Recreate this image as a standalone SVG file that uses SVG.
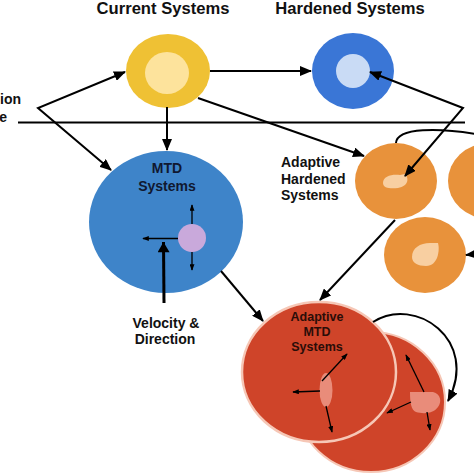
<svg xmlns="http://www.w3.org/2000/svg" width="474" height="474" viewBox="0 0 474 474">
<style>
text{font-family:"Liberation Sans",Arial,sans-serif;font-weight:bold;fill:#111}
.title{font-size:16.6px}
.lbl{font-size:14px}
.lbl2{font-size:12.5px;fill:#2a0d08}
.mtd{font-size:14px;fill:#101830}
.c{stroke:#000;stroke-width:2;fill:none}
.s{stroke:#000;stroke-width:1.3;fill:none}
</style>
<defs>
<marker id="ah" viewBox="0 0 12 10" refX="11" refY="5" markerWidth="12" markerHeight="10" markerUnits="userSpaceOnUse" orient="auto-start-reverse"><path d="M0,0 L12,5 L0,10 Z" fill="#000"/></marker>
<marker id="sm" viewBox="0 0 8 6" refX="7" refY="3" markerWidth="7" markerHeight="5" markerUnits="userSpaceOnUse" orient="auto"><path d="M0,0 L8,3 L0,6 Z" fill="#000"/></marker>
<marker id="big" viewBox="0 0 12 14" refX="12" refY="7" markerWidth="16" markerHeight="12" markerUnits="userSpaceOnUse" orient="auto"><path d="M0,0 L12,7 L0,14 Z" fill="#000"/></marker>
</defs>
<rect width="474" height="474" fill="#fff"/>
<text class="title" x="163" y="14" text-anchor="middle">Current Systems</text>
<text class="title" x="350" y="14" text-anchor="middle">Hardened Systems</text>
<text class="lbl" x="21" y="104" text-anchor="end">ion</text>
<text class="lbl" x="7" y="122" text-anchor="end">e</text>
<line x1="18" y1="122.5" x2="465" y2="122.5" stroke="#000" stroke-width="1.8"/>
<g id="current">
<ellipse cx="168" cy="71" rx="42" ry="37" fill="#efc134"/>
<ellipse cx="167" cy="73" rx="22" ry="21" fill="#fde39c"/>
</g>
<g id="hardened">
<ellipse cx="353" cy="71" rx="41" ry="38" fill="#3a76d6"/>
<circle cx="353" cy="71" r="17" fill="#c9dbf5"/>
</g>
<g id="mtd">
<ellipse cx="166" cy="222" rx="77" ry="71" fill="#3e84c9"/>
<text class="mtd" x="167" y="173" text-anchor="middle">MTD</text>
<text class="mtd" x="167" y="191" text-anchor="middle">Systems</text>
<circle cx="192" cy="238" r="14" fill="#c9a9db"/>
<line class="s" x1="192" y1="224" x2="192" y2="205" marker-end="url(#sm)"/>
<line class="s" x1="192" y1="252" x2="192" y2="270" marker-end="url(#sm)"/>
<line class="s" x1="178" y1="238.5" x2="143" y2="238.5" marker-end="url(#sm)"/>
</g>
<g id="velocity">
<text class="lbl" x="166" y="328" text-anchor="middle">Velocity &amp;</text>
<text class="lbl" x="165" y="344" text-anchor="middle">Direction</text>
</g>
<g id="adaptive-hardened">
<text class="lbl" x="281" y="167">Adaptive</text>
<text class="lbl" x="281" y="184">Hardened</text>
<text class="lbl" x="281" y="200">Systems</text>
<ellipse cx="396" cy="181" rx="41" ry="38" fill="#e8923b"/>
<path d="M383,183 C383,176 392,174 400,175 L405,174 C409,178 409,186 398,188 C390,189 383,188 383,183 Z" fill="#f8cfa1"/>
<ellipse cx="489" cy="181" rx="41" ry="38" fill="#e8923b"/>
<ellipse cx="425" cy="255" rx="41" ry="38" fill="#e8923b"/>
<path d="M412,257 C412,248 420,243 430,243 L438,243 C440,250 438,266 426,266 C418,266 412,263 412,257 Z" fill="#f8cfa1"/>
</g>
<g id="adaptive-mtd">
<ellipse cx="371" cy="402" rx="74" ry="70" fill="#cf4429" stroke="#f6c7b6" stroke-width="2"/>
<ellipse cx="319" cy="372" rx="77" ry="70" fill="#cf4429" stroke="#f6c7b6" stroke-width="2.5"/>
<text class="lbl2" x="317" y="321" text-anchor="middle">Adaptive</text>
<text class="lbl2" x="317" y="336" text-anchor="middle">MTD</text>
<text class="lbl2" x="317" y="351" text-anchor="middle">Systems</text>
<ellipse cx="326" cy="390" rx="6.5" ry="17" fill="#e98c7a"/>
<line class="s" x1="322" y1="381" x2="347" y2="354" marker-end="url(#sm)"/>
<line class="s" x1="320" y1="391" x2="293" y2="392" marker-end="url(#sm)"/>
<line class="s" x1="326" y1="406" x2="332" y2="432" marker-end="url(#sm)"/>
<path d="M410,392 L433,392 C441,394 442,402 438,407 C433,414 423,414 416,412 C411,410 410,402 410,392 Z" fill="#e98c7a"/>
<line class="s" x1="424" y1="392" x2="406" y2="355" marker-end="url(#sm)"/>
<line class="s" x1="411" y1="402" x2="387" y2="413" marker-end="url(#sm)"/>
<line class="s" x1="427" y1="412" x2="430" y2="430" marker-end="url(#sm)"/>
</g>
<g id="connectors">
<path class="c" d="M125,72 L38,108 L111,170" marker-start="url(#ah)" marker-end="url(#ah)"/>
<path class="c" d="M167,107 L167,150" marker-end="url(#ah)"/>
<path class="c" d="M210,71 L311,71" marker-end="url(#ah)"/>
<path class="c" d="M198,98 L364,156" marker-end="url(#ah)"/>
<path class="c" d="M370,72 L463,108 L405,176" marker-start="url(#ah)" marker-end="url(#ah)"/>
<path class="c" d="M221,271 L263,321" marker-end="url(#ah)"/>
<path class="c" d="M395,220 L320,300" marker-end="url(#ah)"/>
<path class="c" d="M396,143 C397,127 440,128 476,134"/>
<path class="c" d="M476,254 L466,255" marker-end="url(#ah)"/>
<path d="M164,303 L163.5,242" stroke="#000" stroke-width="3" fill="none" marker-end="url(#big)"/>
<path class="c" d="M373,322 C415,295 480,340 448,401" marker-end="url(#ah)"/>
</g>
</svg>
